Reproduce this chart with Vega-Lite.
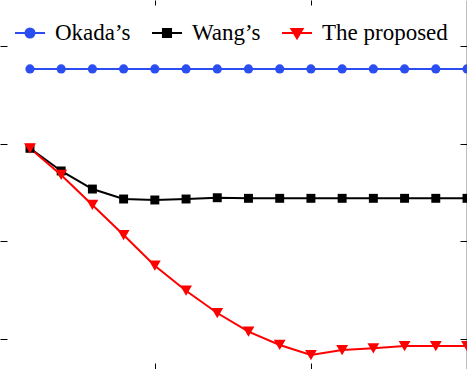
{
  "$schema": "https://vega.github.io/schema/vega-lite/v6.json",
  "width": 467,
  "height": 369,
  "padding": 0,
  "autosize": {"type": "none"},
  "background": "white",
  "config": {
    "view": {"stroke": null},
    "axis": {"labels": false, "title": null, "grid": false, "tickColor": "black", "tickWidth": 1, "domainColor": "black", "domainWidth": 1.5}
  },
  "data": {"values": [
    {"x": 1, "y": 3.764, "s": "Okada’s"}, {"x": 2, "y": 3.764, "s": "Okada’s"}, {"x": 3, "y": 3.764, "s": "Okada’s"},
    {"x": 4, "y": 3.764, "s": "Okada’s"}, {"x": 5, "y": 3.764, "s": "Okada’s"}, {"x": 6, "y": 3.764, "s": "Okada’s"},
    {"x": 7, "y": 3.764, "s": "Okada’s"}, {"x": 8, "y": 3.764, "s": "Okada’s"}, {"x": 9, "y": 3.764, "s": "Okada’s"},
    {"x": 10, "y": 3.764, "s": "Okada’s"}, {"x": 11, "y": 3.764, "s": "Okada’s"}, {"x": 12, "y": 3.764, "s": "Okada’s"},
    {"x": 13, "y": 3.764, "s": "Okada’s"}, {"x": 14, "y": 3.764, "s": "Okada’s"}, {"x": 15, "y": 3.764, "s": "Okada’s"},
    {"x": 1, "y": 2.952, "s": "Wang’s"}, {"x": 2, "y": 2.72, "s": "Wang’s"}, {"x": 3, "y": 2.535, "s": "Wang’s"},
    {"x": 4, "y": 2.433, "s": "Wang’s"}, {"x": 5, "y": 2.423, "s": "Wang’s"}, {"x": 6, "y": 2.433, "s": "Wang’s"},
    {"x": 7, "y": 2.446, "s": "Wang’s"}, {"x": 8, "y": 2.44, "s": "Wang’s"}, {"x": 9, "y": 2.44, "s": "Wang’s"},
    {"x": 10, "y": 2.44, "s": "Wang’s"}, {"x": 11, "y": 2.44, "s": "Wang’s"}, {"x": 12, "y": 2.44, "s": "Wang’s"},
    {"x": 13, "y": 2.44, "s": "Wang’s"}, {"x": 14, "y": 2.44, "s": "Wang’s"}, {"x": 15, "y": 2.44, "s": "Wang’s"},
    {"x": 1, "y": 2.952, "s": "The proposed"}, {"x": 2, "y": 2.679, "s": "The proposed"}, {"x": 3, "y": 2.372, "s": "The proposed"},
    {"x": 4, "y": 2.064, "s": "The proposed"}, {"x": 5, "y": 1.75, "s": "The proposed"}, {"x": 6, "y": 1.494, "s": "The proposed"},
    {"x": 7, "y": 1.266, "s": "The proposed"}, {"x": 8, "y": 1.075, "s": "The proposed"}, {"x": 9, "y": 0.939, "s": "The proposed"},
    {"x": 10, "y": 0.836, "s": "The proposed"}, {"x": 11, "y": 0.887, "s": "The proposed"}, {"x": 12, "y": 0.905, "s": "The proposed"},
    {"x": 13, "y": 0.928, "s": "The proposed"}, {"x": 14, "y": 0.928, "s": "The proposed"}, {"x": 15, "y": 0.928, "s": "The proposed"}
  ]},
  "layer": [
    {
      "mark": {"type": "line", "strokeWidth": 2},
      "encoding": {
        "x": {"field": "x", "type": "quantitative", "scale": {"domain": [0.04, 15], "nice": false, "zero": false},
              "axis": {"orient": "bottom", "values": [5, 10], "tickSize": -6, "domain": false}},
        "y": {"field": "y", "type": "quantitative", "scale": {"domain": [0.693, 4.47], "nice": false, "zero": false},
              "axis": {"orient": "left", "values": [1, 2, 3, 4], "tickSize": -7, "domain": false}},
        "stroke": {"field": "s", "type": "nominal", "scale": {"domain": ["Okada’s", "Wang’s", "The proposed"], "range": ["#2b4ef0", "#000000", "#ff0000"]}}
      }
    },
    {
      "transform": [{"filter": "false"}],
      "mark": {"type": "point", "filled": true, "opacity": 1, "strokeWidth": 2},
      "encoding": {
        "x": {"field": "x", "type": "quantitative", "scale": {"domain": [0.04, 15], "nice": false, "zero": false}, "axis": null},
        "y": {"field": "y", "type": "quantitative", "scale": {"domain": [0.693, 4.47], "nice": false, "zero": false}, "axis": null},
        "stroke": {"field": "s", "type": "nominal", "scale": {"domain": ["Okada’s", "Wang’s", "The proposed"], "range": ["#2b4ef0", "#000000", "#ff0000"]}},
        "color": {"field": "s", "type": "nominal", "scale": {"domain": ["Okada’s", "Wang’s", "The proposed"], "range": ["#2b4ef0", "#000000", "#ff0000"]}},
        "shape": {"field": "s", "type": "nominal",
          "scale": {"domain": ["Okada’s", "Wang’s", "The proposed"],
                    "range": ["M-1,0H1M-0.3,0A0.3,0.3 0 1,0 0.3,0A0.3,0.3 0 1,0 -0.3,0Z", "M-1,0H1M-0.27,-0.27H0.27V0.27H-0.27Z", "M-1,0H1M-0.37,-0.27H0.37L0,0.35Z"]},
          "legend": {
            "title": null, "orient": "none", "legendX": 14, "legendY": 17, "direction": "horizontal",
            "padding": 0, "columnPadding": 17, "labelOffset": 9,
            "labelFont": "Liberation Serif", "labelFontSize": 23, "labelColor": "black",
            "symbolSize": 900, "symbolStrokeWidth": 2, "symbolOpacity": 1
          }
        }
      }
    },
    {
      "transform": [{"filter": {"field": "s", "equal": "Okada’s"}}],
      "mark": {"type": "point", "filled": true, "opacity": 1, "shape": "circle", "size": 85, "color": "#2b4ef0"},
      "encoding": {
        "x": {"field": "x", "type": "quantitative", "scale": {"domain": [0.04, 15], "nice": false, "zero": false},
              "axis": {"orient": "top", "values": [5, 10], "tickSize": -5, "domain": false}},
        "y": {"field": "y", "type": "quantitative", "scale": {"domain": [0.693, 4.47], "nice": false, "zero": false},
              "axis": {"orient": "right", "values": [1, 2, 3, 4], "tickSize": -7, "domain": true}}
      }
    },
    {
      "transform": [{"filter": {"field": "s", "equal": "Wang’s"}}],
      "mark": {"type": "point", "filled": true, "opacity": 1, "shape": "square", "size": 80, "color": "#000000"},
      "encoding": {
        "x": {"field": "x", "type": "quantitative", "scale": {"domain": [0.04, 15], "nice": false, "zero": false}, "axis": null},
        "y": {"field": "y", "type": "quantitative", "scale": {"domain": [0.693, 4.47], "nice": false, "zero": false}, "axis": null}
      }
    },
    {
      "transform": [{"filter": {"field": "s", "equal": "The proposed"}}],
      "mark": {"type": "point", "filled": true, "opacity": 1, "shape": "triangle-down", "size": 140, "color": "#ff0000"},
      "encoding": {
        "x": {"field": "x", "type": "quantitative", "scale": {"domain": [0.04, 15], "nice": false, "zero": false}, "axis": null},
        "y": {"field": "y", "type": "quantitative", "scale": {"domain": [0.693, 4.47], "nice": false, "zero": false}, "axis": null}
      }
    }
  ],
  "resolve": {"axis": {"x": "independent", "y": "independent"}}
}
